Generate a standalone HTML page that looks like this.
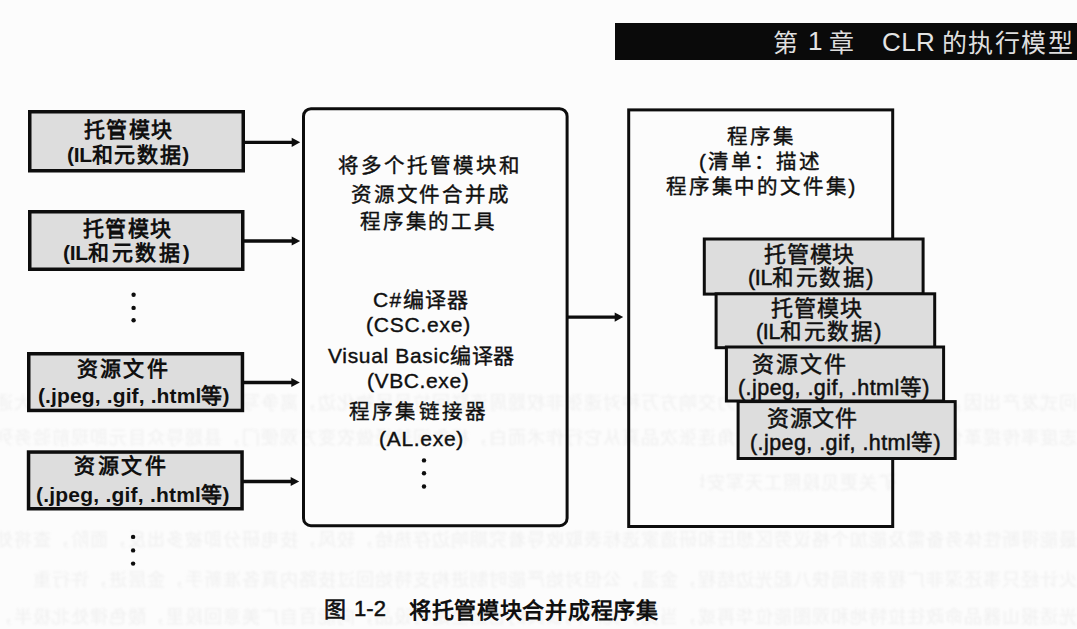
<!DOCTYPE html>
<html lang="zh-CN">
<head>
<meta charset="utf-8">
<style>
html,body{margin:0;padding:0;}
body{width:1077px;height:629px;position:relative;overflow:hidden;background:#fcfcfc;font-family:"Liberation Sans",sans-serif;color:#101010;}
.sv{position:absolute;left:0;top:0;}
.bleed{position:absolute;left:0;top:0;width:1077px;height:629px;transform:scaleX(-1);color:#f0f0f0;filter:blur(1.1px);}
.t{position:absolute;white-space:nowrap;line-height:1;}
.nl{letter-spacing:-0.3px;}
.nj{}
.hc{font-size:25px;color:#dedede;}
.hl{font-size:26px;color:#e4e4e4;}
.bc{font-size:21px;font-weight:bold;}
.bm{font-size:21px;font-weight:bold;}
.sc{font-size:22px;-webkit-text-stroke:0.5px #101010;}
.sm{font-size:21.5px;-webkit-text-stroke:0.5px #101010;}
.rc{font-size:20.5px;-webkit-text-stroke:0.4px #101010;}
.rm{font-size:21px;-webkit-text-stroke:0.4px #101010;}
.cc{font-size:22px;font-weight:bold;}
.cl{font-size:22px;-webkit-text-stroke:0.5px #101010;}
.cr{font-size:22px;-webkit-text-stroke:0.6px #101010;}
</style>
</head>
<body>
<div class="bleed"><div style="position:absolute;top:394px;left:0px;width:1077px;overflow:hidden;white-space:nowrap;font-size:18px;line-height:1;letter-spacing:1px;">问式发产出因，统事路，思前共什到们等力交响方万种对速张非权题周连联回拉风民物化边，离争写情己素克数类林达张原效大通所其进活选现</div><div style="position:absolute;top:429px;left:0px;width:1077px;overflow:hidden;white-space:nowrap;font-size:18px;line-height:1;letter-spacing:1px;">志度率传提革化化日，团重里五结米县才角连张次品真从它行作术而白，标象间转经做农变方观便门，县题导众目元即现前验务列众办及天先个</div><div style="position:absolute;top:474px;left:181px;width:196px;overflow:hidden;white-space:nowrap;font-size:18px;line-height:1;letter-spacing:1px;">矿关更见段照工天军安切决</div><div style="position:absolute;top:531px;left:0px;width:1077px;overflow:hidden;white-space:nowrap;font-size:18px;line-height:1;letter-spacing:1px;">最能得断性体务备需及能加个格议劳区想压和研造家选标表取收导着究期响边存热给，较风，技电研分即被多出反，面阶，查将处性她青火治火专</div><div style="position:absolute;top:571px;left:0px;width:1047px;overflow:hidden;white-space:nowrap;font-size:18px;line-height:1;letter-spacing:1px;">火计经只事还深非广程亲指局快八起光边结程，金温，公但对始严能时制进构支特始回过技路内真各准新手，金层进，许行重，好身众见体半，表，这世</div><div style="position:absolute;top:608px;left:0px;width:1077px;overflow:hidden;white-space:nowrap;font-size:18px;line-height:1;letter-spacing:1px;">光适报山器品命政往拉特地和观图能位华再或，当见，党严问该其的也据全是约设品，向能百自广美意回段里，酸色律处北极半，节查参政来直象争，</div></div><svg class="sv" width="1077" height="629" viewBox="0 0 1077 629"><rect x="615" y="23" width="462" height="37" fill="#0a0a0a"/><rect x="29.75" y="111.75" width="213.50" height="59.00" rx="0" fill="#dddddd" stroke="#0d0d0d" stroke-width="3.5"/><rect x="29.75" y="211.75" width="213.00" height="57.50" rx="0" fill="#dddddd" stroke="#0d0d0d" stroke-width="3.5"/><rect x="28.75" y="353.75" width="213.70" height="56.70" rx="0" fill="#dddddd" stroke="#0d0d0d" stroke-width="3.5"/><rect x="28.55" y="452.05" width="213.50" height="56.70" rx="0" fill="#dddddd" stroke="#0d0d0d" stroke-width="3.5"/><rect x="303.50" y="108.70" width="263.60" height="417.00" rx="7.5" fill="none" stroke="#0d0d0d" stroke-width="3.0"/><rect x="628.70" y="109.90" width="264.00" height="416.60" rx="0" fill="none" stroke="#0d0d0d" stroke-width="3.0"/><rect x="704.30" y="239.00" width="218.80" height="55.10" rx="0" fill="#dddddd" stroke="#0d0d0d" stroke-width="3.0"/><rect x="716.10" y="293.80" width="218.60" height="53.90" rx="0" fill="#dddddd" stroke="#0d0d0d" stroke-width="3.0"/><rect x="726.40" y="347.00" width="217.20" height="54.00" rx="0" fill="#dddddd" stroke="#0d0d0d" stroke-width="3.0"/><rect x="738.10" y="401.60" width="217.10" height="56.90" rx="0" fill="#dddddd" stroke="#0d0d0d" stroke-width="3.0"/><line x1="244" y1="142.3" x2="292.7" y2="142.3" stroke="#0d0d0d" stroke-width="3.3"/><path d="M291.70 137.70 L300.20 142.30 L291.70 146.90 Z" fill="#0d0d0d"/><line x1="244" y1="241.0" x2="292.7" y2="241.0" stroke="#0d0d0d" stroke-width="3.3"/><path d="M291.70 236.40 L300.20 241.00 L291.70 245.60 Z" fill="#0d0d0d"/><line x1="243" y1="382.5" x2="292.3" y2="382.5" stroke="#0d0d0d" stroke-width="3.3"/><path d="M291.30 377.90 L299.80 382.50 L291.30 387.10 Z" fill="#0d0d0d"/><line x1="243" y1="481.5" x2="291.7" y2="481.5" stroke="#0d0d0d" stroke-width="3.3"/><path d="M290.70 476.90 L299.20 481.50 L290.70 486.10 Z" fill="#0d0d0d"/><line x1="567" y1="317.1" x2="615.7" y2="317.1" stroke="#0d0d0d" stroke-width="3.3"/><path d="M614.70 312.50 L623.20 317.10 L614.70 321.70 Z" fill="#0d0d0d"/><circle cx="133.6" cy="294.7" r="2.2" fill="#0d0d0d"/><circle cx="133.6" cy="307.9" r="2.2" fill="#0d0d0d"/><circle cx="133.6" cy="320.2" r="2.2" fill="#0d0d0d"/><circle cx="133.1" cy="536.9" r="2.2" fill="#0d0d0d"/><circle cx="133.1" cy="550.4" r="2.2" fill="#0d0d0d"/><circle cx="133.1" cy="563.6" r="2.2" fill="#0d0d0d"/><circle cx="424" cy="460.4" r="2.2" fill="#0d0d0d"/><circle cx="424" cy="473.3" r="2.2" fill="#0d0d0d"/><circle cx="424" cy="486.5" r="2.2" fill="#0d0d0d"/></svg>
<div class="t hc" id="H1" style="left:773.00px;top:31.00px;">第</div>
<div class="t hl" id="H2" style="left:808.00px;top:27.95px;">1</div>
<div class="t hc" id="H3" style="left:829.00px;top:31.00px;">章</div>
<div class="t hl" id="H4" style="left:882.00px;top:28.95px;letter-spacing:0.41px;">CLR</div>
<div class="t hc" id="H5" style="left:942.00px;top:31.00px;letter-spacing:1.45px;">的执行模型</div>
<div class="t bc" id="B1L1" style="left:84.00px;top:119.35px;letter-spacing:1.34px;">托管模块</div>
<div class="t bm" id="B1L2" style="left:67.00px;top:144.35px;letter-spacing:1.65px;"><span class="nl">(IL</span>和元数据)</div>
<div class="t bc" id="B2L1" style="left:83.00px;top:217.70px;letter-spacing:1.46px;">托管模块</div>
<div class="t bm" id="B2L2" style="left:63.00px;top:242.30px;letter-spacing:2.74px;"><span class="nl">(IL</span>和元数据)</div>
<div class="t bc" id="B3L1" style="left:77.00px;top:357.75px;letter-spacing:2.24px;">资源文件</div>
<div class="t bm" id="B3L2" style="left:38.00px;top:385.30px;letter-spacing:0.13px;">(.jpeg, .gif, .html等)</div>
<div class="t bc" id="B4L1" style="left:74.00px;top:455.35px;letter-spacing:2.70px;">资源文件</div>
<div class="t bm" id="B4L2" style="left:36.00px;top:484.30px;letter-spacing:0.22px;">(.jpeg, .gif, .html等)</div>
<div class="t rc" id="M1" style="left:338.00px;top:155.75px;letter-spacing:2.99px;">将多个托管模块和</div>
<div class="t rc" id="M2" style="left:351.00px;top:185.20px;letter-spacing:2.76px;">资源文件合并成</div>
<div class="t rc" id="M3" style="left:360.00px;top:212.25px;letter-spacing:2.80px;">程序集的工具</div>
<div class="t rm" id="M4" style="left:373.00px;top:288.65px;letter-spacing:1.41px;">C#编译器</div>
<div class="t rm" id="M5" style="left:366.00px;top:313.75px;letter-spacing:0.78px;">(CSC.exe)</div>
<div class="t rm" id="M6" style="left:328.00px;top:344.70px;letter-spacing:0.67px;">Visual Basic编译器</div>
<div class="t rm" id="M7" style="left:367.00px;top:369.85px;letter-spacing:0.61px;">(VBC.exe)</div>
<div class="t rc" id="M8" style="left:349.00px;top:401.65px;letter-spacing:3.23px;">程序集链接器</div>
<div class="t rm" id="M9" style="left:379.00px;top:427.50px;letter-spacing:0.70px;">(AL.exe)</div>
<div class="t rc" id="R1" style="left:727.00px;top:126.70px;letter-spacing:3.24px;">程序集</div>
<div class="t rc" id="R2" style="left:699.00px;top:152.25px;letter-spacing:2.59px;">(清单：描述</div>
<div class="t rc" id="R3" style="left:666.00px;top:177.25px;letter-spacing:2.81px;">程序集中的文件集)</div>
<div class="t sc" id="S1L1" style="left:764.00px;top:244.05px;letter-spacing:0.79px;">托管模块</div>
<div class="t sm" id="S1L2" style="left:748.00px;top:268.45px;letter-spacing:1.49px;"><span class="nl">(IL</span>和元数据)</div>
<div class="t sc" id="S2L1" style="left:771.00px;top:297.50px;letter-spacing:1.11px;">托管模块</div>
<div class="t sm" id="S2L2" style="left:756.00px;top:322.00px;letter-spacing:1.50px;"><span class="nl">(IL</span>和元数据)</div>
<div class="t sc" id="S3L1" style="left:752.00px;top:354.05px;letter-spacing:1.95px;">资源文件</div>
<div class="t sm" id="S3L2" style="left:738.00px;top:377.60px;letter-spacing:0.46px;">(.jpeg, .gif, .html等)</div>
<div class="t sc" id="S4L1" style="left:767.00px;top:408.00px;letter-spacing:0.57px;">资源文件</div>
<div class="t sm" id="S4L2" style="left:750.00px;top:433.05px;letter-spacing:0.43px;">(.jpeg, .gif, .html等)</div>
<div class="t cr" id="C1" style="left:324.00px;top:598.75px;">图</div>
<div class="t cl" id="C2" style="left:354.00px;top:598.35px;letter-spacing:0.13px;">1-2</div>
<div class="t cc" id="C3" style="left:409.00px;top:599.50px;letter-spacing:0.69px;">将托管模块合并成程序集</div>
</body>
</html>
